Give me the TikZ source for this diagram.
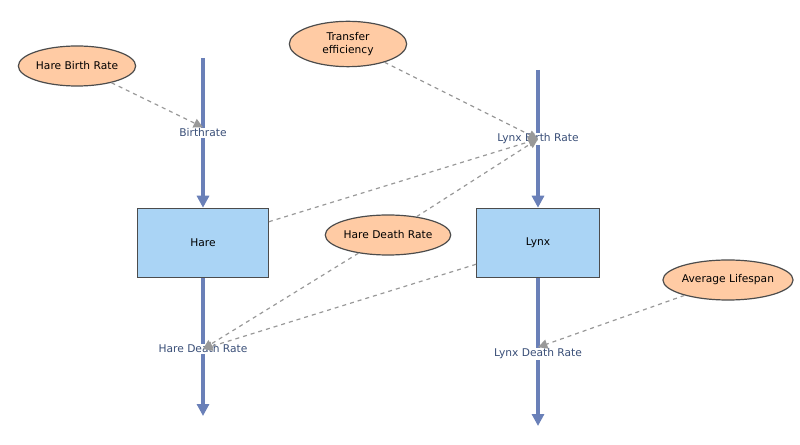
\documentclass[tikz,border=0pt]{standalone}
\usepackage{fontspec}
\setmainfont{DejaVu Sans}
\usetikzlibrary{arrows.meta, positioning, shapes.geometric}
\definecolor{flowblue}{HTML}{6A80B8}
\definecolor{stockfill}{HTML}{AAD4F5}
\definecolor{auxfill}{HTML}{FFCBA4}
\definecolor{labelblue}{HTML}{3A4F78}
\tikzset{
  stock/.style={draw=black!70, fill=stockfill, line width=0.9pt, minimum width=98pt, minimum height=52pt, font=\footnotesize},
  aux/.style={ellipse, draw=black!70, fill=auxfill, line width=0.9pt, minimum width=88pt, minimum height=30pt, inner sep=0pt, font=\footnotesize, align=center},
  valve/.style={fill=white, inner sep=1pt, text=labelblue, font=\footnotesize},
  flow/.style={flowblue, line width=2.4pt, -{Triangle[length=9pt, width=9pt]}},
  link/.style={gray!80, dashed, line width=0.9pt, -{Triangle[length=7pt, width=7pt]}},
}
\begin{document}
\begin{tikzpicture}[x=0.75pt, y=-0.75pt]
        \useasboundingbox (0,0) rectangle (800,445);
        % Stocks
        \node[stock] (hare) at (203,243) {Hare};
        \node[stock, minimum width=92pt] (lynx) at (538,243) {Lynx};
        % Flow ends
        \coordinate (harein) at (203,58);
        \coordinate (hareout) at (203,416);
        \coordinate (lynxin) at (538,70);
        \coordinate (lynxout) at (538,426);
        % Flows
        \draw[flow] (harein) -- (hare.north);
        \draw[flow] (hare.south) -- (hareout);
        \draw[flow] (lynxin) -- (lynx.north);
        \draw[flow] (lynx.south) -- (lynxout);
        % Valves
        \node[valve] (birth) at (203,133) {Birthrate};
        \node[valve] (hdeath) at (203,349) {Hare Death Rate};
        \node[valve] (lbirth) at (538,139) {Lynx Birth Rate};
        \node[valve] (ldeath) at (538,354) {Lynx Death Rate};
        % Auxiliaries
        \node[aux] (hbr) at (77,66) {Hare Birth Rate};
        \node[aux, minimum height=34pt] (te) at (348,44) {Transfer\\efficiency};
        \node[aux] (hdr) at (388,235) {Hare Death Rate};
        \node[aux] (al) at (728,280) {Average Lifespan};
        % Links
        \draw[link] (hbr) -- (birth.north);
        \draw[link] (te) -- (lbirth.center);
        \draw[link] (hare.north east) ++(0,14) -- (lbirth.center);
        \draw[link] (hdr) -- (lbirth.center);
        \draw[link] (hdr) -- (hdeath.center);
        \draw[link] (lynx.south west) ++(0,-14) -- (hdeath.center);
        \draw[link] (al) -- (ldeath.north);
\end{tikzpicture}
\end{document}
